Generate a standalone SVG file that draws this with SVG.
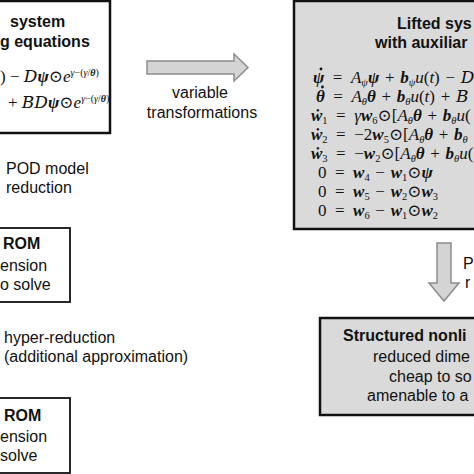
<svg xmlns="http://www.w3.org/2000/svg" width="474" height="474" viewBox="0 0 474 474">
<style>
.sans{font-family:"Liberation Sans",Arial,sans-serif;font-size:16px;fill:#111}
.b{font-weight:bold}
.m{font-family:"Liberation Serif","DejaVu Serif",serif;font-size:17px;fill:#111}
.v{font-weight:bold;font-style:italic}
.i{font-style:italic}
.s{font-size:10.5px}
.cal{font-family:"DejaVu Serif","Liberation Serif",serif;font-style:italic}
.box{fill:#fff;stroke:#111;stroke-width:2.5}
.gbox{fill:#dadada;stroke:#111;stroke-width:2.5}
.sbox{fill:#fff;stroke:#111;stroke-width:1.8}
.arr{fill:#d4d4d4;stroke:#8c8c8c;stroke-width:1.5}
.dot{fill:#111}
</style>
<rect width="474" height="474" fill="#fff"/>
<g id="connectors">
<polygon class="arr" points="147,61 234,61 234,54 248,67.5 234,81 234,74 147,74"/>
<polygon class="arr" points="437,243 451,243 451,283 459,283 444,301 429,283 437,283"/>
</g>
<g id="label-variable">
<text class="sans" x="200" y="98" text-anchor="middle">variable</text>
<text class="sans" x="202" y="118" text-anchor="middle">transformations</text>
</g>
<g id="label-pod-right">
<text class="sans" x="463" y="269">P</text>
<text class="sans" x="465" y="288">r</text>
</g>
<g id="label-pod-left">
<text class="sans" x="6" y="174">POD model</text>
<text class="sans" x="6" y="193">reduction</text>
</g>
<g id="label-hyper">
<text class="sans" x="4" y="343">hyper-reduction</text>
<text class="sans" x="4" y="362">(additional approximation)</text>
</g>
<g id="node-full-system">
<rect class="box" x="-20" y="1" width="130" height="132"/>
<text class="sans b" x="10" y="27">system</text>
<text class="sans b" x="0" y="47">g equations</text>
<text class="m" x="0" y="82" font-size="15">) − <tspan class="cal">D</tspan><tspan class="v">ψ</tspan>⊙<tspan class="i">e</tspan><tspan class="i" font-size="10" dy="-6">γ</tspan><tspan font-size="10">−(</tspan><tspan class="i" font-size="10">γ</tspan><tspan font-size="10">/</tspan><tspan class="v" font-size="10">θ</tspan><tspan font-size="10">)</tspan></text>
<text class="m" x="8" y="108" font-size="15">+ <tspan class="cal">BD</tspan><tspan class="v">ψ</tspan>⊙<tspan class="i">e</tspan><tspan class="i" font-size="10" dy="-6">γ</tspan><tspan font-size="10">−(</tspan><tspan class="i" font-size="10">γ</tspan><tspan font-size="10">/</tspan><tspan class="v" font-size="10">θ</tspan><tspan font-size="10">)</tspan></text>
</g>
<g id="node-lifted-system">
<rect class="gbox" x="294" y="1" width="200" height="228"/>
<text class="sans b" x="397" y="29">Lifted sys</text>
<text class="sans b" x="375" y="48">with auxiliar</text>
<circle class="dot" cx="321" cy="69" r="1.4"/>
<circle class="dot" cx="322.5" cy="87" r="1.4"/>
<text class="m" x="313" y="83"><tspan class="v">ψ</tspan>&#x2002;=&#x2002;<tspan class="i">A</tspan><tspan class="i s" dy="3">ψ</tspan><tspan class="v" dy="-3">ψ</tspan>&#x2004;+&#x2004;<tspan class="v">b</tspan><tspan class="i s" dy="3">ψ</tspan><tspan class="i" dy="-3">u</tspan>(<tspan class="i">t</tspan>)&#x2004;−&#x2004;<tspan class="cal">D</tspan></text>
<text class="m" x="316" y="102"><tspan class="v">θ</tspan>&#x2002;=&#x2002;<tspan class="i">A</tspan><tspan class="i s" dy="3">θ</tspan><tspan class="v" dy="-3">θ</tspan>&#x2004;+&#x2004;<tspan class="v">b</tspan><tspan class="i s" dy="3">θ</tspan><tspan class="i" dy="-3">u</tspan>(<tspan class="i">t</tspan>)&#x2004;+&#x2004;<tspan class="cal">B</tspan></text>
<text class="m" x="311" y="121"><tspan class="v">ẇ</tspan><tspan class="s" dy="3">1</tspan><tspan dy="-3">&#x2002;=&#x2002;</tspan><tspan class="i">γ</tspan><tspan class="v">w</tspan><tspan class="s" dy="3">6</tspan><tspan dy="-3">⊙[</tspan><tspan class="i">A</tspan><tspan class="i s" dy="3">θ</tspan><tspan class="v" dy="-3">θ</tspan>&#x2004;+&#x2004;<tspan class="v">b</tspan><tspan class="i s" dy="3">θ</tspan><tspan class="i" dy="-3">u</tspan>(</text>
<text class="m" x="311" y="140"><tspan class="v">ẇ</tspan><tspan class="s" dy="3">2</tspan><tspan dy="-3">&#x2002;=&#x2002;−2</tspan><tspan class="v">w</tspan><tspan class="s" dy="3">5</tspan><tspan dy="-3">⊙[</tspan><tspan class="i">A</tspan><tspan class="i s" dy="3">θ</tspan><tspan class="v" dy="-3">θ</tspan>&#x2004;+&#x2004;<tspan class="v">b</tspan><tspan class="i s" dy="3">θ</tspan></text>
<text class="m" x="311" y="159"><tspan class="v">ẇ</tspan><tspan class="s" dy="3">3</tspan><tspan dy="-3">&#x2002;=&#x2002;−</tspan><tspan class="v">w</tspan><tspan class="s" dy="3">2</tspan><tspan dy="-3">⊙[</tspan><tspan class="i">A</tspan><tspan class="i s" dy="3">θ</tspan><tspan class="v" dy="-3">θ</tspan>&#x2004;+&#x2004;<tspan class="v">b</tspan><tspan class="i s" dy="3">θ</tspan><tspan class="i" dy="-3">u</tspan>(</text>
<text class="m" x="318" y="178">0&#x2002;=&#x2002;<tspan class="v">w</tspan><tspan class="s" dy="3">4</tspan><tspan dy="-3">&#x2004;−&#x2004;</tspan><tspan class="v">w</tspan><tspan class="s" dy="3">1</tspan><tspan dy="-3">⊙</tspan><tspan class="v">ψ</tspan></text>
<text class="m" x="318" y="197">0&#x2002;=&#x2002;<tspan class="v">w</tspan><tspan class="s" dy="3">5</tspan><tspan dy="-3">&#x2004;−&#x2004;</tspan><tspan class="v">w</tspan><tspan class="s" dy="3">2</tspan><tspan dy="-3">⊙</tspan><tspan class="v">w</tspan><tspan class="s" dy="3">3</tspan></text>
<text class="m" x="318" y="216">0&#x2002;=&#x2002;<tspan class="v">w</tspan><tspan class="s" dy="3">6</tspan><tspan dy="-3">&#x2004;−&#x2004;</tspan><tspan class="v">w</tspan><tspan class="s" dy="3">1</tspan><tspan dy="-3">⊙</tspan><tspan class="v">w</tspan><tspan class="s" dy="3">2</tspan></text>
</g>
<g id="node-pod-rom">
<rect class="sbox" x="-20" y="228" width="90" height="74"/>
<text class="sans b" x="3" y="249">ROM</text>
<text class="sans" x="0" y="271">ension</text>
<text class="sans" x="0" y="290">o solve</text>
</g>
<g id="node-hyper-rom">
<rect class="sbox" x="-20" y="398" width="90" height="75"/>
<text class="sans b" x="4" y="421">ROM</text>
<text class="sans" x="0" y="442">ension</text>
<text class="sans" x="0" y="461">solve</text>
</g>
<g id="node-structured-rom">
<rect class="gbox" x="320" y="318" width="180" height="97"/>
<text class="sans b" x="343" y="341">Structured nonli</text>
<text class="sans" x="373" y="362">reduced dime</text>
<text class="sans" x="389" y="382">cheap to so</text>
<text class="sans" x="367" y="401">amenable to a</text>
</g>
</svg>
